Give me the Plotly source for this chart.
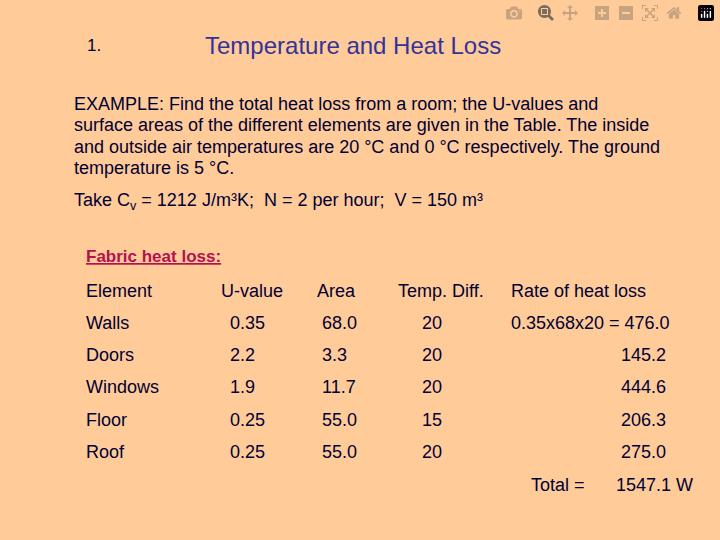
import plotly.graph_objects as go

elements = ["Walls", "Doors", "Windows", "Floor", "Roof"]
u_values = ["0.35", "2.2", "1.9", "0.25", "0.25"]
areas = ["68.0", "3.3", "11.7", "55.0", "55.0"]
temp_diffs = ["20", "20", "20", "15", "20"]
rates = ["0.35x68x20 = 476.0", "145.2", "444.6", "206.3", "275.0"]
headers = ["Element", "U-value", "Area", "Temp. Diff.", "Rate of heat loss"]
total_text = "1547.1 W"

W, H = 720, 540
TXT = "#000033"
FONT = "Liberation Sans, Arial, sans-serif"
anns = []

def add(text, x, y, size=18, color=TXT, anchor="left"):
    anns.append(dict(text=text, x=x / W, y=1 - y / H, xref="paper", yref="paper",
                     xanchor=anchor, yanchor="middle", showarrow=False,
                     font=dict(family=FONT, size=size, color=color)))

add("1.", 85, 46, 17)
add("Temperature and Heat Loss", 203, 45, 24, "#333399")
para = ["EXAMPLE: Find the total heat loss from a room; the U-values and",
        "surface areas of the different elements are given in the Table. The inside",
        "and outside air temperatures are 20 °C and 0 °C respectively. The ground",
        "temperature is 5 °C."]
for i, line in enumerate(para):
    add(line, 72, [104, 125, 147, 168][i])
add("Take C<sub>v</sub> = 1212 J/m³K;  N = 2 per hour;  V = 150 m³", 72, 201)
add("<b><u>Fabric heat loss:</u></b>", 84, 257, 17, "#B3124F")

hx = [84, 219, 315, 396, 509]
for h, x in zip(headers, hx):
    add(h, x, 291)
rows_y = [323, 355, 387, 420, 452]
for i, y in enumerate(rows_y):
    add(elements[i], 84, y)
    add(u_values[i], 228, y)
    add(areas[i], 320, y)
    add(temp_diffs[i], 420, y)
    if i == 0:
        add(rates[i], 509, y)
    else:
        add(rates[i], 668, y, anchor="right")
add("Total =", 529, 485)
add(total_text, 614, 485)

fig = go.Figure()
fig.update_layout(width=W, height=H, margin=dict(l=0, r=0, t=0, b=0),
                  paper_bgcolor="#FFCC99", plot_bgcolor="#FFCC99",
                  xaxis=dict(visible=False), yaxis=dict(visible=False),
                  annotations=anns, showlegend=False)
fig.write_html("out.html",
               post_script="document.body.style.margin='0';document.body.style.background='#FFCC99';document.body.style.overflow='hidden';")
